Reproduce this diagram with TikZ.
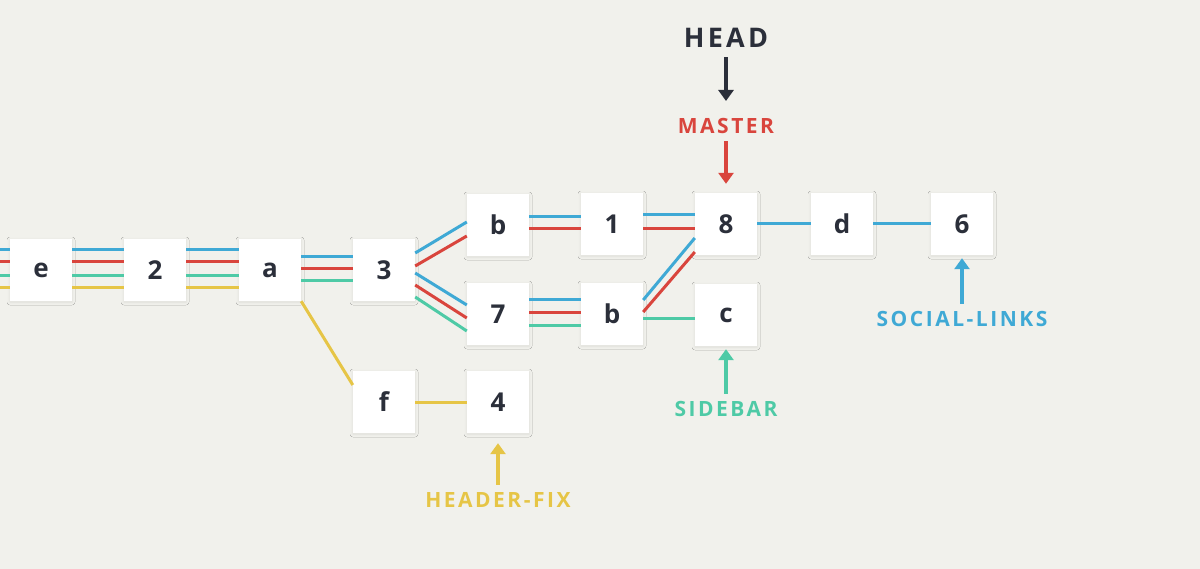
\documentclass[tikz,border=0pt]{standalone}
\usepackage{fontspec}
\setmainfont{Open Sans}
\newfontfamily\lblfont[LetterSpace=12]{Open Sans}
\usetikzlibrary{arrows.meta,shadows.blur}
\definecolor{bg}{HTML}{F1F1EC}
\definecolor{cblue}{HTML}{3FA9D5}
\definecolor{cred}{HTML}{D9453D}
\definecolor{cteal}{HTML}{4ECAA6}
\definecolor{cyel}{HTML}{E6C546}
\definecolor{cdark}{HTML}{2B2F3A}
\begin{document}
\begin{tikzpicture}[x=1pt,y=-1pt,
  commit/.style={fill=white,minimum size=62pt,inner sep=0pt,font=\fontsize{26}{26}\bfseries\color{cdark},blur shadow={shadow blur steps=6,shadow xshift=0pt,shadow yshift=-1pt,shadow opacity=8,shadow blur radius=3pt}},
  br/.style={line width=3pt},
  lbl/.style={font=\fontsize{21}{21}\bfseries\lblfont},
  ptr/.style={line width=3.5pt,-{Triangle[length=11pt,width=15pt]}}]
\fill[bg] (0,0) rectangle (1200,569);
\useasboundingbox (0,0) rectangle (1200,569);
\coordinate (L) at (0,270);
\node[commit] (e) at (41,270) {e};
\node[commit] (n2) at (155,270) {2};
\node[commit] (a) at (270,270) {a};
\node[commit] (n3) at (384,270) {3};
\node[commit] (b1) at (498,225) {b};
\node[commit] (n1) at (612,224) {1};
\node[commit] (n8) at (726,224) {8};
\node[commit] (d) at (842,224) {d};
\node[commit] (n6) at (962,224) {6};
\node[commit] (n7) at (498,314) {7};
\node[commit] (b2) at (612,314) {b};
\node[commit] (c) at (726,315) {c};
\node[commit] (f) at (384,402) {f};
\node[commit] (n4) at (498,402) {4};
% left stubs and e-2-a
\foreach \col/\dy in {cblue/20,cred/8,cteal/-6,cyel/-18}{
  \draw[br,\col] ([yshift=\dy]L) -- ([yshift=\dy]e.west);
  \draw[br,\col] ([yshift=\dy]e.east) -- ([yshift=\dy]n2.west);
  \draw[br,\col] ([yshift=\dy]n2.east) -- ([yshift=\dy]a.west);
}
\foreach \col/\dy in {cblue/13,cred/1,cteal/-11}{
  \draw[br,\col] ([yshift=\dy]a.east) -- ([yshift=\dy]n3.west);
}
% 3 -> b
\draw[br,cblue] ([yshift=17]n3.east) -- ([yshift=3]b1.west);
\draw[br,cred] ([yshift=4]n3.east) -- ([yshift=-11]b1.west);
% 3 -> 7
\draw[br,cblue] ([yshift=-3]n3.east) -- ([yshift=9]n7.west);
\draw[br,cred] ([yshift=-15]n3.east) -- ([yshift=-4]n7.west);
\draw[br,cteal] ([yshift=-27]n3.east) -- ([yshift=-17]n7.west);
% b-1, 1-8
\draw[br,cblue] ([yshift=8]b1.east) -- ([yshift=7]n1.west);
\draw[br,cred] ([yshift=-4]b1.east) -- ([yshift=-5]n1.west);
\draw[br,cblue] ([yshift=9]n1.east) -- ([yshift=9]n8.west);
\draw[br,cred] ([yshift=-5]n1.east) -- ([yshift=-5]n8.west);
% 7-b
\draw[br,cblue] ([yshift=14]n7.east) -- ([yshift=14]b2.west);
\draw[br,cred] ([yshift=1]n7.east) -- ([yshift=1]b2.west);
\draw[br,cteal] ([yshift=-12]n7.east) -- ([yshift=-12]b2.west);
% b -> 8
\draw[br,cblue] ([yshift=14]b2.east) -- ([yshift=-14]n8.west);
\draw[br,cred] ([yshift=2]b2.east) -- ([yshift=-28]n8.west);
% b -> c
\draw[br,cteal] ([yshift=-5]b2.east) -- ([yshift=-4]c.west);
% 8-d-6
\draw[br,cblue] (n8.east) -- (d.west);
\draw[br,cblue] (d.east) -- (n6.west);
% a -> f -> 4
\draw[br,cyel] (a.south east) -- ([yshift=17]f.west);
\draw[br,cyel] (f.east) -- (n4.west);
% labels
\node[lbl,font=\fontsize{27}{27}\bfseries\lblfont,text=cdark] (head) at (726,38) {HEAD};
\coordinate (headtip) at (726,101);
\draw[ptr,cdark] ([yshift=-6]head.south) -- (headtip);
\node[lbl,text=cred] (master) at (726,126) {MASTER};
\draw[ptr,cred] ([yshift=-4]master.south) -- ([yshift=9]n8.north);
\node[lbl,text=cteal] (sidebar) at (726,409) {SIDEBAR};
\draw[ptr,cteal] ([yshift=4]sidebar.north) -- ([yshift=-3]c.south);
\node[lbl,text=cblue] (social) at (962,319) {SOCIAL-LINKS};
\draw[ptr,cblue] ([yshift=4]social.north) -- ([yshift=-3]n6.south);
\node[lbl,text=cyel] (hfix) at (498,500) {HEADER-FIX};
\draw[ptr,cyel] ([yshift=4]hfix.north) -- ([yshift=-10]n4.south);
\end{tikzpicture}
\end{document}
